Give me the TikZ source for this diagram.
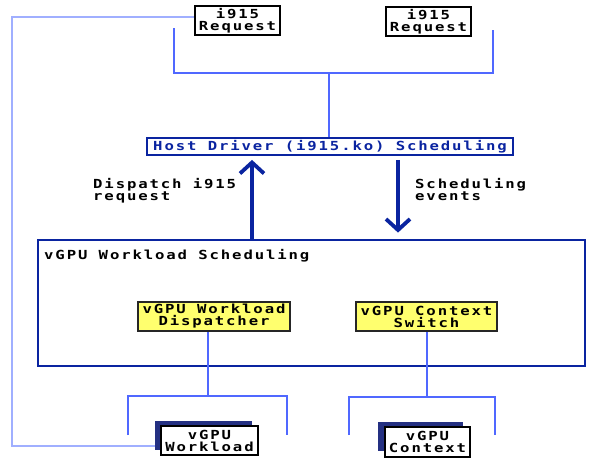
\documentclass[tikz,border=0pt]{standalone}
\usepackage{fontspec}
\newfontfamily\pix{DejaVu Sans Mono}[FakeStretch=1.25,LetterSpace=15]
\usetikzlibrary{arrows.meta}
\definecolor{lblue}{RGB}{80,104,255}
\definecolor{dotblue}{RGB}{160,175,255}
\definecolor{navy}{RGB}{10,36,160}
\definecolor{shadownavy}{RGB}{36,48,130}
\definecolor{pyellow}{RGB}{255,255,110}
\tikzset{
  pixfont/.style={font={\pix\bfseries\fontsize{12.5}{12}\selectfont}},
  whitebox/.style={pixfont, draw=black, line width=1.6pt, fill=white, inner sep=0pt, align=center, minimum width=#1},
  yellowbox/.style={pixfont, draw=black!85, line width=1.6pt, fill=pyellow, inner sep=0pt, align=center, minimum height=29pt, minimum width=#1},
  shadowbox/.style={fill=shadownavy, inner sep=0pt},
  bracket/.style={draw=lblue, line width=2.6pt},
  bigarrow/.style={draw=navy, line width=3.8pt, -{Straight Barb[length=11pt,width=24pt,line width=3.8pt]}},
  dotline/.style={draw=dotblue, line width=2.2pt},
  label/.style={pixfont, align=left, inner sep=0pt, anchor=north west}
}
\begin{document}
\begin{tikzpicture}[x=1pt,y=-1pt]
\useasboundingbox (0,0) rectangle (600,464);
% top request boxes
\node[whitebox=85pt, minimum height=29pt] (req1) at (237.5,20.5) {i915\\Request};
\node[whitebox=85pt, minimum height=29pt] (req2) at (428.5,21.5) {i915\\Request};
% top bracket
\coordinate (tbl) at (174,28);
\coordinate (tbr) at (493,30);
\coordinate (tbc) at (329,73);
\draw[bracket] (tbl) |- (tbc) -| (tbr);
% host driver
\node[pixfont, text=navy, draw=navy, line width=1.8pt, minimum width=366pt, minimum height=17pt, inner sep=0pt] (host) at (330,146.5) {Host Driver (i915.ko) Scheduling};
\draw[bracket] (tbc) -- (tbc |- host.north);
% big box
\node[draw=navy, line width=2.8pt, minimum width=547pt, minimum height=126pt, inner sep=0pt] (vws) at (311.5,303) {};
\node[label] (vwst) at (44,249) {vGPU Workload Scheduling};
% arrows
\coordinate (upx) at (252,0);
\coordinate (dnx) at (398,0);
\draw[bigarrow, shorten >=4pt] (vws.north -| upx) -- (host.south -| upx);
\draw[bigarrow, shorten <=4pt, shorten >=6pt] (host.south -| dnx) -- (vws.north -| dnx);
\node[label] (lab1) at (93,178) {Dispatch i915\\request};
\node[label] (lab2) at (415,178) {Scheduling\\events};
% yellow boxes
\node[yellowbox=152pt] (disp) at (214,316.5) {vGPU Workload\\Dispatcher};
\node[yellowbox=141pt] (sw) at (426.5,316.5) {vGPU Context\\Switch};
% bottom brackets
\coordinate (bl1) at (128,435);
\coordinate (bl2) at (287,435);
\coordinate (blc) at (208,396);
\draw[bracket] (blc |- disp.south) -- (blc);
\draw[bracket] (bl1) |- (blc) -| (bl2);
\coordinate (br1) at (349,435);
\coordinate (br2) at (495,435);
\coordinate (brc) at (427,397);
\draw[bracket] (brc |- sw.south) -- (brc);
\draw[bracket] (br1) |- (brc) -| (br2);
% bottom boxes with shadows
\node[shadowbox, minimum width=97pt, minimum height=29pt] (wls) at (203.5,435.5) {};
\node[whitebox=97pt, minimum height=29pt] (wl) at (209.5,440.5) {vGPU\\Workload};
\node[shadowbox, minimum width=85pt, minimum height=29pt] (ctxs) at (420.5,436.5) {};
\node[whitebox=85pt, minimum height=30pt] (ctx) at (427.5,442) {vGPU\\Context};
% dotted feedback line
\coordinate (d1) at (12,17);
\coordinate (d2) at (12,446);
\draw[dotline] (req1.west |- d1) -- (d1) -- (d2) -- (d2 -| wls.west);
\end{tikzpicture}
\end{document}
